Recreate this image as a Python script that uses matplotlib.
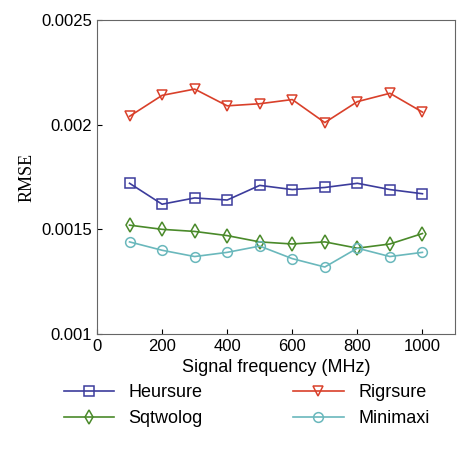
import matplotlib
matplotlib.use("Agg")
import matplotlib.pyplot as plt

freq = [100, 200, 300, 400, 500, 600, 700, 800, 900, 1000]
heursure = [0.00172, 0.00162, 0.00165, 0.00164, 0.00171, 0.00169, 0.00170, 0.00172, 0.00169, 0.00167]
rigrsure = [0.00204, 0.00214, 0.00217, 0.00209, 0.00210, 0.00212, 0.00201, 0.00211, 0.00215, 0.00206]
sqtwolog = [0.00152, 0.00150, 0.00149, 0.00147, 0.00144, 0.00143, 0.00144, 0.00141, 0.00143, 0.00148]
minimaxi = [0.00144, 0.00140, 0.00137, 0.00139, 0.00142, 0.00136, 0.00132, 0.00141, 0.00137, 0.00139]

plt.rcParams['font.family'] = ['Liberation Sans', 'DejaVu Sans']
fig = plt.figure(figsize=(4.74, 4.62), dpi=100)
ax = fig.add_axes([97/474, 1-334/462, 358/474, 314/462])
kw = dict(markerfacecolor='none', markersize=7, linewidth=1.2, markeredgewidth=1.1)
l1, = ax.plot(freq, heursure, marker='s', color='#3c3c9c', label='Heursure', **kw)
l2, = ax.plot(freq, rigrsure, marker='v', color='#d9402a', label='Rigrsure', **kw)
l3, = ax.plot(freq, sqtwolog, marker='d', color='#4a8a2a', label='Sqtwolog', **kw)
l4, = ax.plot(freq, minimaxi, marker='o', color='#6ab8bc', label='Minimaxi', **kw)
ax.set_xlim(0, 1100)
ax.set_ylim(0.001, 0.0025)
ax.set_xticks([0, 200, 400, 600, 800, 1000])
ax.set_yticks([0.001, 0.0015, 0.002, 0.0025])
ax.set_yticklabels(['0.001', '0.0015', '0.002', '0.0025'])
ax.tick_params(labelsize=12, direction='in')
ax.set_xlabel('Signal frequency (MHz)', fontsize=13)
ax.set_ylabel('RMSE', fontsize=13, family=['Liberation Serif'])
for s in ax.spines.values():
    s.set_color('#666666')
fig.legend(handles=[l1, l3, l2, l4], loc='lower center', ncol=2, frameon=False,
           fontsize=13, bbox_to_anchor=(0.52, 0.04), columnspacing=5, handlelength=2.8)
fig.savefig('out.png', dpi=100)
